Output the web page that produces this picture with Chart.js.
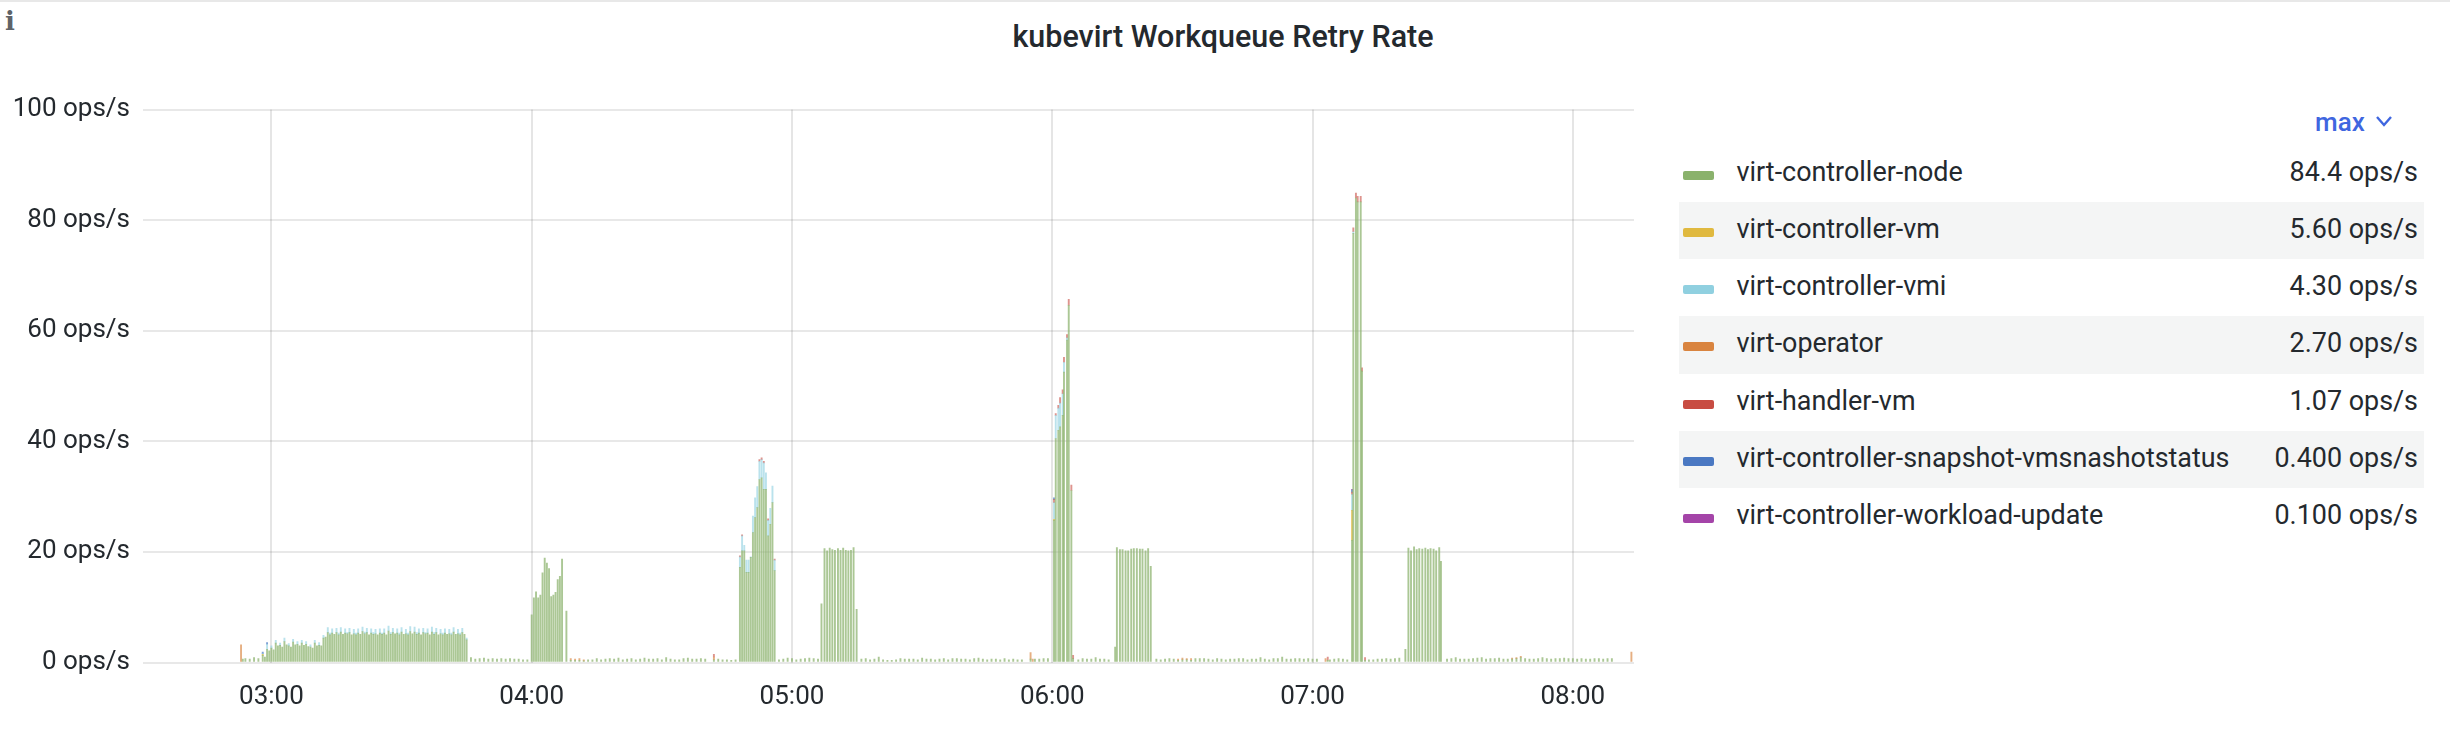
<!DOCTYPE html>
<html><head><meta charset="utf-8">
<style>
html,body{margin:0;padding:0;background:#fff;width:2450px;height:732px;overflow:hidden;font-family:Roboto,sans-serif;color:#24292e}
#topline{position:absolute;left:0;top:0;width:2450px;height:2px;background:#e8e8e8}
#info{position:absolute;left:5px;top:7px;font:bold 26px "DejaVu Serif",serif;color:#5f6368;line-height:28px}
#title{position:absolute;left:823px;width:800px;top:18px;text-align:center;font:500 30.5px Roboto,sans-serif;line-height:38px;color:#24292e}
#wrap{position:absolute;left:0;top:0;width:1660px;height:732px}
#maxh{position:absolute;left:2315px;top:106px;font:500 26px Roboto,sans-serif;line-height:32px;color:#3f66e0}
#chev{position:absolute;left:2374px;top:114px}
.row{position:absolute;left:1679px;width:745px;height:57.2px;font:26.9px Roboto,sans-serif;line-height:55.5px}
.row.alt{background:#f4f5f5}
.sw{position:absolute;left:4px;top:26px;width:31px;height:9px;border-radius:2px}
.nm{position:absolute;left:57.5px;top:0;white-space:nowrap}
.val{position:absolute;right:6px;top:0;white-space:nowrap}
</style></head><body>
<div id="topline"></div>
<div id="info">i</div>
<div id="title">kubevirt Workqueue Retry Rate</div>
<div id="wrap"><canvas id="c" width="1660" height="732"></canvas></div>
<div id="maxh">max</div>
<svg id="chev" width="20" height="16" viewBox="0 0 20 16"><path d="M3 3 L10 11 L17 3" fill="none" stroke="#3f66e0" stroke-width="2.4"/></svg>
<div id="legend"></div>
<script src="https://cdn.jsdelivr.net/npm/chart.js@4/dist/chart.umd.min.js"></script>
<script>
const seriesNames=["virt-controller-node","virt-controller-vm","virt-controller-vmi","virt-operator","virt-handler-vm","virt-controller-snapshot-vmsnashotstatus","virt-controller-workload-update"];
const seriesMax=["84.4 ops/s","5.60 ops/s","4.30 ops/s","2.70 ops/s","1.07 ops/s","0.400 ops/s","0.100 ops/s"];
const swatchColors=["#8ab26c","#e0b93f","#90d0e0","#d9843f","#c84c42","#4a78c2","#a444a8"];
const barColors=["rgba(138,178,108,0.72)","rgba(224,185,63,0.75)","rgba(144,208,224,0.62)","rgba(217,132,63,0.65)","rgba(200,76,66,0.6)","rgba(74,120,194,0.7)","rgba(164,68,168,0.7)"];
const yTicks=[0,20,40,60,80,100];

// each pair: minutes after midnight, ops/s
const nodeLeadIn=[[173.4,.6],[174,.7],[175,.6],[176,.9],[177,.7]];
const nodeSlowRamp=[[178,1.3],[178.5,1],[179,2.4],[179.5,2.1],[180,2.6],[180.5,2.3],[181,3.5],[181.5,3],[182,3.1],[182.5,2.8],[183,3.8],[183.5,3.2],[184,3],[184.5,2.8],[185,3.7],[185.5,3.2],[186,3.3],[186.5,3],[187,3.5],[187.5,3.1],[188,3.3],[188.5,2.9],[189,2.8],[189.5,2.6],[190,3.5],[190.5,3],[191,3.1],[191.5,3],[192,4.4],[192.5,4.6],
[193,5.4],[193.5,5],[194,5.3],[194.5,5.1],[195,5.4],[195.5,5],[196,5.5],[196.5,5.1],[197,5.3],[197.5,5.2],[198,5.4],[198.5,5],[199,5.2],[199.5,5],[200,5.3],[200.5,5.1],[201,5.6],[201.5,5.2],[202,5.4],[202.5,5],[203,5.3],[203.5,5.1],[204,5.2],[204.5,5],[205,5.3],[205.5,5.1],[206,5.3],[206.5,5],[207,5.7],[207.5,5.1],[208,5.4],[208.5,5.2],[209,5.3],[209.5,5],[210,5.5],[210.5,5.1],[211,5.2],[211.5,5],[212,5.6],[212.5,5.2],[213,5.5],[213.5,5.1],[214,5.3],[214.5,5],[215,5.4],[215.5,5.2],[216,5.3],[216.5,5],[217,5.5],[217.5,5.1],[218,5.4],[218.5,5],[219,5.2],[219.5,5],[220,5.3],[220.5,5.1],[221,5.2],[221.5,5],[222,5.5],[222.5,5.1],[223,5.2],[223.5,5],[224,5.4],[224.5,5.1],[225,4.1]];
const nodeQuietA=[[226,.9],[227,.6],[228,.7],[229,.8],[230,.6],[231,.7],[232,.6],[233,.7],[234,.6],[235,.7],[236,.6],[237,.6],[238,.5],[239,.5]];
const nodeBurst4h=[[240,8.6],[240.5,11.7],[241,12.8],[241.5,11.7],[242,12.2],[242.5,16.2],[243,18.9],[243.5,18],[244,17],[244.5,11.9],[245,12.2],[245.5,12.7],[246,15],[246.5,15.6],[247,18.7],[248,9.3]];
const nodeQuietB=[[249,.4],[250,.4],[251,.4],[252,.3],[253,.5],[254,.5],[255,.7],[256,.5],[257,.6],[258,.7],[259,.6],[260,.8],[261,.5],[262,.6],[263,.7],[264,.5],[265,.6],[266,.8],[267,.6],[268,.6],[269,.7],[270,.5],[271,.9],[272,.6],[273,.5],[274,.5],[275,.7],[276,.8],[277,.6],[278,.6],[279,.7],[280,.6],[282,.5],[283,.6],[284,.5],[285,.5],[286,.4],[287,.5]];
const nodeBurst5h=[[288,17.2],[288.5,20.2],[289,20.2],[289.5,16.3],[290,16.3],[290.5,19],[291,23.5],[291.5,26.2],[292,28],[292.5,33.1],[293,33.4],[293.5,31.3],[294,31.3],[294.5,22.9],[295,25],[295.5,28.9],[296,16.6]];
const nodeQuietC=[[297,.5],[298,.6],[299,.8],[300,.7],[301,.5],[302,.6],[303,.7],[304,.8],[305,.7],[306,.6]];
const nodeBlock5h=[[306.8,10.6],[307.5,20.6],[308.1,20.2],[308.7,20.7],[309.3,20.4],[309.9,20.3],[310.6,20.6],[311.2,20.3],[311.8,20.7],[312.4,20.3],[313,20.2],[313.6,20.3],[314.2,20.8],[314.9,9.6]];
const nodeQuietD=[[316,.6],[317,.7],[318,.5],[319,.6],[320,1],[321,.5],[322,.4],[323,.4],[324,.5],[325,.7],[326,.6],[327,.6],[328,.6],[329,.5],[330,.8],[331,.6],[332,.6],[333,.5],[334,.6],[335,.7],[336,.5],[337,.7],[338,.7],[339,.6],[340,.6],[341,.5],[342,.7],[343,.8],[344,.6],[345,.5],[346,.6],[347,.6],[348,.5],[349,.7],[350,.5],[351,.6],[352,.5],[353,.5],[355,.6],[356,.6],[357,.6],[358,.7],[359,.7]];
const nodeBurst6h=[[360.4,25.7],[360.8,40.5],[361.4,42],[361.8,42.6],[362.4,44.7],[362.7,52.5],[363.4,58.3],[363.8,64.6],[364.4,31.1],[364.8,.7]];
const nodeQuietE=[[366,.5],[367,.7],[368,.6],[369,.6],[370,.9],[371,.6],[372,.6],[373,.5]];
const nodeBlock6h=[[374.5,2.8],[374.9,20.8],[375.6,20.4],[376.2,20.4],[376.9,20.2],[377.5,20.2],[378.2,20.5],[378.8,20.6],[379.5,20.6],[380.2,20.5],[380.8,20.5],[381.5,20.2],[382.1,20.6],[382.7,17.4]];
const nodeQuietF=[[384,.6],[385,.5],[386,.6],[387,.7],[388,.6],[389,.4],[390,.5],[391,.5],[392,.4],[393,.7],[394,.7],[395,.7],[396,.6],[397,.5],[398,.7],[399,.6],[400,.5],[401,.6],[402,.6],[403,.7],[404,.7],[405,.5],[406,.6],[407,.6],[408,.9],[409,.6],[410,.5],[411,.7],[412,.7],[413,1],[414,.6],[415,.6],[416,.7],[417,.7],[418,.6],[419,.7],[420,.6],[421,.6],[423.5,.4],[424,.5],[425,.6],[426,.7],[427,.6],[428,.5]];
const nodeBurst7h=[[429.1,22.1],[429.4,77.6],[430,84],[430.4,83.3],[431.1,83.3],[431.4,52.7],[432.1,.4]];
const nodeQuietG=[[433,.5],[434,.5],[435,.6],[436,.6],[437,.7],[438,.6],[439,.7],[440,.8]];
const nodeBlock7h=[[441.4,2.4],[442.1,20.7],[442.7,20.2],[443.4,20.9],[444,20.4],[444.6,20.6],[445.3,20.5],[446,20.7],[446.6,20.4],[447.2,20.6],[447.9,20.5],[448.5,20.2],[449.2,20.8],[449.6,18.3]];
const nodeQuietH=[[451,.6],[452,.7],[453,.9],[454,.6],[455,.6],[456,.6],[457,.7],[458,.8],[459,.9],[460,.6],[461,.7],[462,.7],[463,.8],[464,.6],[465,.6],[466,.6],[467,.7],[468,.9],[469,.7],[470,.6],[471,.6],[472,.7],[473,.9],[474,.7],[475,.6],[476,.7],[477,.7],[478,.8],[479,.7],[480,.7],[481,.6],[482,.7],[483,.6],[484,.6],[485,.7],[486,.7],[487,.6],[488,.7],[489,.7]];
const nodeValues=[].concat(nodeLeadIn,nodeSlowRamp,nodeQuietA,nodeBurst4h,nodeQuietB,nodeBurst5h,nodeQuietC,nodeBlock5h,nodeQuietD,nodeBurst6h,nodeQuietE,nodeBlock6h,nodeQuietF,nodeBurst7h,nodeQuietG,nodeBlock7h,nodeQuietH);

const vmValues=[[178,.2],[429.1,5.4],[360.4,.2]];
const vmiValues=[[178,.1],[179,.9],[180,.4],[181,.5],[182,.4],[183,.6],[184,.4],[185,.5],[186,.5],[187,.5],[188,.5],[189,.4],[190,.5],[191,.5],[192,.5],
[193,.9],[193.5,.3],[194,.8],[195,.8],[195.5,.3],[196,.8],[197,.8],[197.5,.2],[198,.8],[199,.8],[199.5,.3],[200,.8],[201,.8],[201.5,.3],[202,.8],[203,.8],[203.5,.3],[204,.8],[205,.8],[205.5,.2],[206,.8],[207,.9],[207.5,.3],[208,.8],[209,.8],[209.5,.3],[210,.8],[211,.8],[211.5,.3],[212,.9],[213,.9],[213.5,.3],[214,.8],[215,.8],[215.5,.2],[216,.8],[217,.9],[217.5,.3],[218,.8],[219,.8],[219.5,.3],[220,.8],[221,.8],[221.5,.3],[222,.8],[223,.8],[223.5,.3],[224,.8],[225,.3],
[288,1.9],[288.5,2.7],[289,1],[289.5,2.2],[290,2.2],[290.5,.1],[291,3],[291.5,3.6],[292,3.8],[292.5,3.3],[293,3.3],[293.5,4.8],[294,3],[294.5,2.8],[295,2.9],[295.5,3],[296,1.9],
[360.4,3],[360.8,4.2],[361.4,4],[361.8,4.3],[362.4,3.9],[362.7,1.8],[363.4,.4],[429.1,2.9],[429.4,.3]];
const operatorValues=[[173,3.2],[249,.3],[250,.2],[251,.3],[252,.2],[355,1.2],[355.5,.6],[282,.5],[389,.2],[390,.3],[391,.2],[392,.3],[423,.7],[466,.2],[467,.2],[468,.2],[493.5,1.9]];
const handlerValues=[[288,.2],[288.5,.2],[292.5,.3],[293,.3],[293.5,.3],[294.5,.3],[296,.2],[282,.5],[360.4,.6],[360.8,.3],[361.4,.5],[361.8,1],[362.4,.7],[362.7,.9],[363.4,.6],[363.8,1.07],[364.4,1],[364.8,.6],[429.1,.4],[429.4,.7],[430,.9],[430.4,1],[431.1,1],[431.4,.6],[432.1,.5],[423.5,.6]];
const snapshotValues=[[178,.3],[179,.3],[360.4,.3],[429.1,.4]];
const workloadValues=[[429.1,.1]];

const seriesData=[nodeValues,vmValues,vmiValues,operatorValues,handlerValues,snapshotValues,workloadValues];
const datasets=seriesNames.map((n,i)=>({
  label:n,
  data:seriesData[i].map(p=>({x:p[0],y:p[1]})),
  backgroundColor:barColors[i],
  borderWidth:0,
  barThickness:1.25,
  stack:"s"
}));
const pad=v=>String(v).padStart(2,"0");
new Chart(document.getElementById("c"),{
  type:"bar",
  data:{datasets},
  options:{
    responsive:false,animation:false,
    layout:{padding:{top:109.5,right:26,left:0,bottom:0}},
    plugins:{legend:{display:false},tooltip:{enabled:false},title:{display:false}},
    scales:{
      x:{type:"linear",stacked:true,min:150.4,max:494.1,offset:false,
        afterFit:s=>{s.height=69.5},
        grid:{color:"rgba(0,0,0,0.10)",lineWidth:2,drawTicks:false,offset:false},
        border:{display:false},
        ticks:{stepSize:60,includeBounds:false,maxRotation:0,autoSkip:false,padding:19,color:"#24292e",font:{family:"Roboto",size:26},
          callback:v=>pad(Math.floor(v/60))+":"+pad(v%60)}},
      y:{stacked:true,min:0,max:100,
        afterFit:s=>{s.width=143},
        afterBuildTicks:s=>{s.ticks=yTicks.map(v=>({value:v}))},
        grid:{color:"rgba(0,0,0,0.09)",lineWidth:2,drawTicks:false},
        border:{display:false},
        ticks:{padding:13,color:"#24292e",font:{family:"Roboto",size:26},callback:v=>v+" ops/s"}}
    }
  }
});
const lg=document.getElementById("legend");
seriesNames.forEach((n,i)=>{
  const r=document.createElement("div");
  r.className="row"+(i%2?" alt":"");
  r.style.top=(144.8+i*57.2)+"px";
  r.innerHTML='<div class="sw" style="background:'+swatchColors[i]+'"></div><div class="nm">'+n+'</div><div class="val">'+seriesMax[i]+'</div>';
  lg.appendChild(r);
});
</script>
</body></html>
